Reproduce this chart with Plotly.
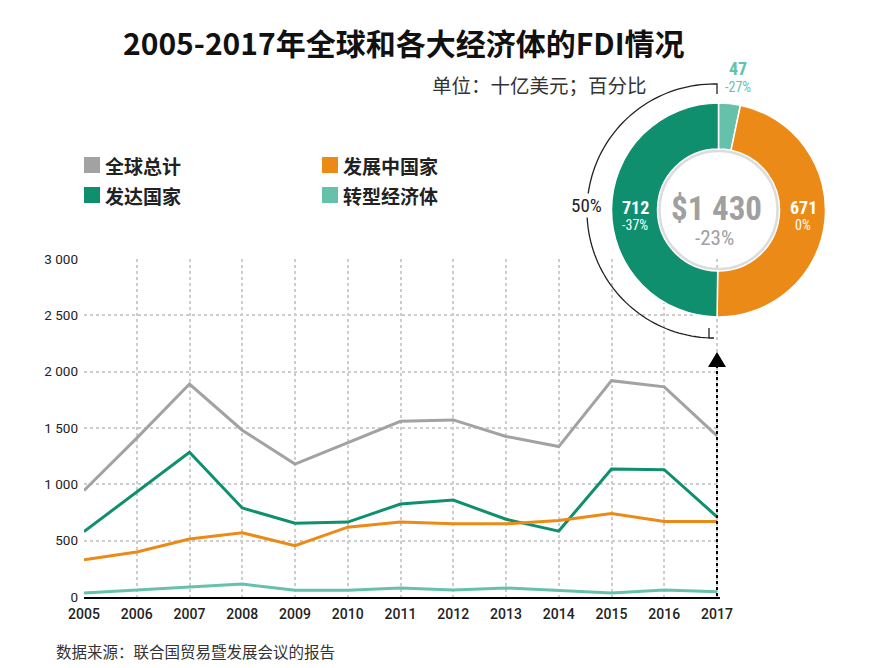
import math
import plotly.graph_objects as go

W, H = 870, 668

# ---------------- data ----------------
years = list(range(2005, 2018))
series_names = ["全球总计", "发达国家", "发展中国家", "转型经济体"]
total = [945, 1410, 1890, 1480, 1180, 1370, 1560, 1572, 1425, 1335, 1920, 1865, 1430]
developed = [580, 935, 1285, 790, 655, 665, 825, 860, 690, 585, 1135, 1130, 712]
developing = [330, 400, 515, 570, 455, 620, 665, 650, 650, 680, 740, 670, 671]
transition = [35, 60, 90, 115, 60, 60, 80, 62, 80, 55, 35, 62, 47]

ytick_vals = [0, 500, 1000, 1500, 2000, 2500, 3000]
ytick_text = ["0", "500", "1 000", "1 500", "2 000", "2 500", "3 000"]

donut_labels = ["转型经济体", "发展中国家", "发达国家"]
donut_values = [47, 671, 712]
donut_change = ["-27%", "0%", "-37%"]
donut_total = "$1 430"
donut_total_change = "-23%"
developed_share = "50%"

# ---------------- style ----------------
GREY = "#a2a2a2"
GREEN = "#0f8f6e"
ORANGE = "#ec8a17"
TEAL = "#66c1ab"
colors = [GREY, GREEN, ORANGE, TEAL]
CJK = "Noto Sans CJK SC"
NUM = "Liberation Sans Narrow, Roboto Condensed, DejaVu Sans Condensed, Roboto"


def px(x):
    return x / W


def py(y):
    return 1 - y / H


fig = go.Figure()
for name, vals, col in zip(series_names, [total, developed, developing, transition], colors):
    fig.add_trace(go.Scatter(x=years, y=vals, mode="lines", name=name,
                             line=dict(color=col, width=3), showlegend=False,
                             cliponaxis=False))

fig.add_trace(go.Pie(values=donut_values, labels=donut_labels, sort=False,
                     direction="clockwise", rotation=0, hole=0.57, automargin=False,
                     marker=dict(colors=[TEAL, ORANGE, GREEN], line=dict(color="white", width=1.5)),
                     textinfo="none", hoverinfo="skip", showlegend=False,
                     domain=dict(x=[px(610), px(827)], y=[py(317), py(103)])))

x_end = 2017 + 3 / 52.75
fig.update_layout(
    width=W, height=H, margin=dict(l=0, r=0, t=0, b=0, pad=0, autoexpand=False),
    paper_bgcolor="white", plot_bgcolor="white",
    xaxis=dict(domain=[px(84), px(720)], range=[2005, x_end], tickvals=years, automargin=False,
               ticktext=[str(y) for y in years], showgrid=True, gridcolor="#cdcdcd",
               griddash="dot", gridwidth=1.5, showline=True, linecolor="black", linewidth=2,
               ticks="", zeroline=False, ticklabelstandoff=3,
               tickfont=dict(family="Roboto", size=14, color="#222", weight=500)),
    yaxis=dict(domain=[py(597), py(259)], range=[0, 3000], tickvals=ytick_vals, automargin=False,
               ticktext=ytick_text, showgrid=True, gridcolor="#cdcdcd", griddash="dot",
               gridwidth=1.5, zeroline=False, showline=False, ticks="", ticklabelstandoff=5,
               tickfont=dict(family="Roboto", size=13.5, color="#222")),
)

annotations = []
shapes = []


def text(x, y, s, size, color="#222", family=CJK, xanchor="center", bold=False, bg=None):
    annotations.append(dict(x=px(x), y=py(y), xref="paper", yref="paper", showarrow=False,
                            text=f"<b>{s}</b>" if bold else s, xanchor=xanchor, yanchor="middle",
                            font=dict(family=family, size=size, color=color),
                            bgcolor=bg, borderpad=0))


# title / subtitle / source
text(404, 42, "2005-2017年全球和各大经济体的FDI情况", 30, "#111", bold=True)
text(539, 85, "单位：十亿美元；百分比", 19.5, "#333")
text(55, 651, "数据来源：联合国贸易暨发展会议的报告", 15.5, "#333", xanchor="left")

# legend
legend_pos = [(84, 165), (84, 195), (322, 165), (322, 195)]
for (lx, ly), name, col in zip(legend_pos, series_names, colors):
    shapes.append(dict(type="rect", xref="paper", yref="paper", x0=px(lx), x1=px(lx + 16),
                       y0=py(ly + 8), y1=py(ly - 8), fillcolor=col, line=dict(width=0)))
    text(lx + 20, ly, name, 19, "#222", xanchor="left", bold=True)

# donut labels
text(635, 207, str(donut_values[2]), 18, "white", NUM, bold=True)
text(635, 225, donut_change[2], 14, "white", NUM)
text(803, 207, str(donut_values[1]), 18, "white", NUM, bold=True)
text(803, 225, donut_change[1], 14, "white", NUM)
text(738, 68, str(donut_values[0]), 18, TEAL, NUM, bold=True)
text(738, 87, donut_change[0], 14, TEAL, NUM)
text(716, 208, donut_total, 33, "#a0a0a0", NUM, bold=True)
text(714, 238, donut_total_change, 21, "#a0a0a0", NUM)

# inner ring of hole
shapes.append(dict(type="circle", xref="paper", yref="paper", x0=px(718.5 - 59), x1=px(718.5 + 59),
                   y0=py(210 + 59), y1=py(210 - 59), line=dict(color="#dcdcdc", width=2.5),
                   fillcolor="rgba(0,0,0,0)", layer="above"))

# bracket arc for developed share
cx, cy, R = 714, 211, 127
pts = []
for i in range(0, 91):
    a = math.pi / 2 + math.pi * i / 90
    pts.append((cx + R * math.cos(a), cy - R * math.sin(a)))
path = f"M{px(717)},{py(94)} L{px(717)},{py(cy - R)} L{px(pts[0][0])},{py(pts[0][1])} "
path += " ".join(f"L{px(x)},{py(y)}" for x, y in pts)
path += f" L{px(709)},{py(cy + R)} L{px(709)},{py(328)}"
shapes.append(dict(type="path", xref="paper", yref="paper", path=path,
                   line=dict(color="#222", width=1.3)))
text(586, 205, developed_share, 19, "#222", NUM, bg="white")

# dotted arrow at 2017
shapes.append(dict(type="line", xref="x", yref="paper", x0=2017, x1=2017, y0=py(596), y1=py(366),
                   line=dict(color="black", width=2, dash="dot")))
shapes.append(dict(type="path", xref="paper", yref="paper",
                   path=f"M{px(708)},{py(367)} L{px(726)},{py(367)} L{px(717)},{py(352)} Z",
                   fillcolor="black", line=dict(width=0)))

fig.update_layout(annotations=annotations, shapes=shapes)
fig.write_html("out.html")
